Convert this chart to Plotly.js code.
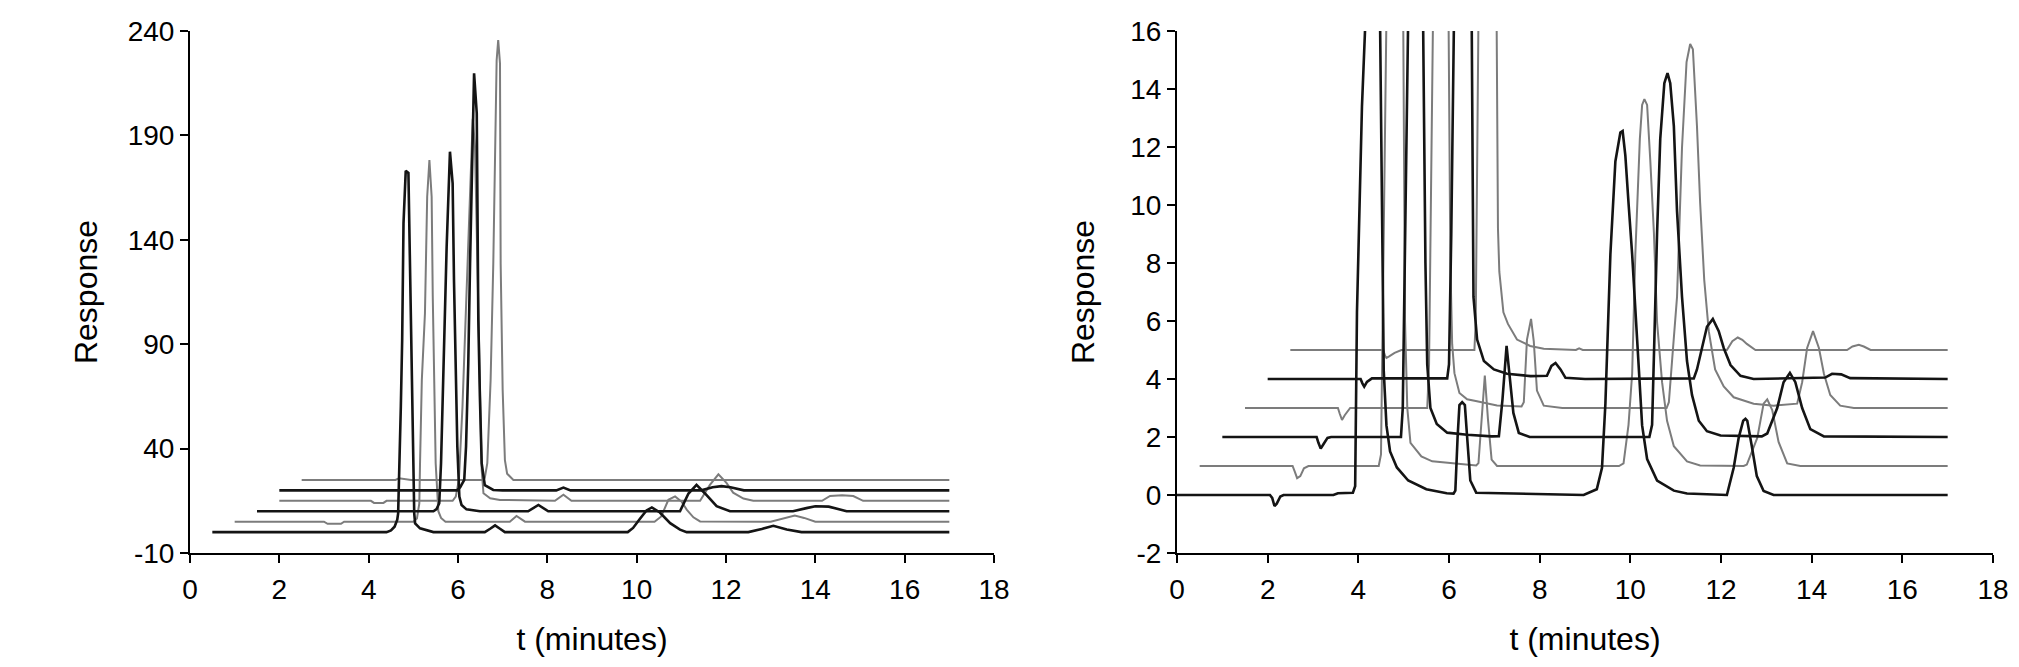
<!DOCTYPE html>
<html>
<head>
<meta charset="utf-8">
<script src="https://cdn.plot.ly/plotly-3.0.1.min.js"></script>
<style>html,body{margin:0;padding:0;background:#fff;}#chart{width:2019px;height:667px;}</style>
</head>
<body>
<div id="chart"></div>
<script>
// ---------- Left panel: six chromatograms (time in minutes, response) ----------
const leftT1 = [0.5, 4.40, 4.50, 4.58, 4.64, 4.66, 4.72, 4.75, 4.78, 4.83, 4.89, 4.925, 4.95, 4.98, 5.02, 5.04, 5.15, 5.45, 6.60, 6.72, 6.83, 6.94, 7.05, 9.80, 9.92, 10.07, 10.22, 10.34, 10.52, 10.75, 10.97, 11.12, 12.50, 12.80, 13.06, 13.36, 13.69, 17.0];
const leftR1 = [0, 0, 0.8, 2.6, 6, 9, 60, 92, 148, 173, 172, 129, 97, 50, 9, 4.2, 1.8, 0, 0, 1.6, 3.2, 1.6, 0, 0, 2, 6.3, 10.4, 11.8, 9.4, 4.3, 1.2, 0, 0, 1.5, 3.0, 1.3, 0, 0];

const leftT2 = [1.0, 3.00, 3.08, 3.38, 3.45, 5.00, 5.08, 5.134, 5.15, 5.19, 5.26, 5.31, 5.36, 5.41, 5.435, 5.47, 5.50, 5.56, 5.62, 5.72, 7.16, 7.31, 7.50, 10.40, 10.55, 10.71, 10.86, 11.01, 11.12, 11.27, 11.42, 13.00, 13.30, 13.54, 13.75, 14.00, 17.0];
const leftR2 = [5, 5, 4, 4, 5, 5, 6.5, 13.8, 33, 72.8, 104.8, 160.6, 178.2, 160.6, 112.8, 64.9, 33, 10, 6.8, 5, 5, 7.7, 5, 5, 7.5, 15.5, 17.1, 14.5, 10.8, 7.1, 5.1, 5, 6.8, 8.0, 6.8, 5, 5];

const leftT3 = [1.5, 5.45, 5.52, 5.58, 5.62, 5.656, 5.686, 5.746, 5.82, 5.88, 5.91, 5.94, 5.985, 6.03, 6.08, 6.19, 6.49, 7.57, 7.80, 8.02, 10.97, 11.16, 11.34, 11.53, 11.79, 12.09, 13.50, 13.80, 14.00, 14.30, 14.60, 14.70, 17.0];
const leftR3 = [10, 10, 11, 13.8, 33, 64.9, 96.8, 136.7, 182.2, 167, 120.7, 80.8, 41, 17, 13, 10.9, 10, 10, 13, 10, 10, 18.5, 22.6, 18.5, 12.4, 10, 10, 11.5, 12.4, 12.2, 10.3, 10, 10];

const leftT4 = [2.0, 4.05, 4.12, 4.33, 4.40, 5.88, 5.95, 6.02, 6.10, 6.18, 6.26, 6.33, 6.38, 6.43, 6.48, 6.53, 6.57, 6.72, 6.94, 8.17, 8.36, 8.54, 11.42, 11.64, 11.83, 12.01, 12.16, 12.39, 12.61, 14.15, 14.33, 14.60, 14.85, 15.07, 17.0];
const leftR4 = [15, 15, 14, 14, 15, 15, 17, 25, 60, 110, 160, 198, 185, 130, 70, 30, 18.6, 16.2, 15.4, 15, 17.9, 15, 15, 22.6, 27.7, 23.6, 18.9, 16.1, 15, 15, 17.3, 17.6, 17.3, 15, 15];

const leftT5 = [2.0, 5.98, 6.05, 6.10, 6.14, 6.18, 6.23, 6.27, 6.36, 6.42, 6.455, 6.49, 6.53, 6.60, 6.79, 7.00, 8.20, 8.36, 8.52, 11.45, 11.70, 11.90, 12.10, 12.40, 17.0];
const leftR5 = [20, 20, 21.5, 23.5, 25, 41, 80.8, 128.7, 219.7, 200.6, 101.6, 64.9, 33, 22.5, 20.2, 20, 20, 21.3, 20, 20, 21.5, 22, 21.5, 20, 20];

const leftT6 = [2.5, 4.60, 4.68, 4.80, 4.95, 6.55, 6.60, 6.656, 6.73, 6.79, 6.83, 6.865, 6.90, 6.94, 6.955, 7.00, 7.05, 7.10, 7.24, 17.0];
const leftR6 = [25, 25, 25.8, 25.5, 25, 25, 26, 33, 72.8, 128.7, 176.6, 226, 235.7, 224.5, 128.7, 68, 34.5, 28, 25, 25];

// ---------- Right panel: the same kind of runs, zoomed response scale ----------
const rightT1 = [0, 2.05, 2.10, 2.15, 2.20, 2.28, 2.35, 3.45, 3.55, 3.88, 3.93, 3.97, 4.08, 4.16, 4.32, 4.48, 4.52, 4.56, 4.62, 4.70, 4.85, 5.10, 5.50, 5.95, 6.10, 6.14, 6.19, 6.23, 6.29, 6.35, 6.40, 6.47, 6.60, 8.97, 9.26, 9.375, 9.45, 9.56, 9.67, 9.78, 9.83, 9.89, 9.96, 10.04, 10.15, 10.26, 10.37, 10.59, 10.96, 11.25, 12.13, 12.28, 12.39, 12.49, 12.54, 12.58, 12.68, 12.79, 12.94, 13.16, 17.0];
const rightR1 = [0, 0, -0.1, -0.38, -0.3, -0.05, 0, 0, 0.06, 0.08, 0.3, 6.3, 13.4, 16.5, 40, 16.5, 8.9, 4.3, 2.4, 1.5, 0.95, 0.5, 0.2, 0.06, 0.05, 0.15, 2.0, 3.1, 3.2, 3.1, 2.0, 0.5, 0.08, 0, 0.2, 0.94, 3.15, 8.3, 11.5, 12.5, 12.55, 11.7, 10.07, 8.3, 5.36, 2.4, 1.24, 0.5, 0.15, 0.05, 0, 0.94, 1.97, 2.56, 2.63, 2.56, 1.68, 0.65, 0.14, 0, 0];

const rightT2 = [0.5, 2.55, 2.60, 2.65, 2.72, 2.80, 2.90, 4.45, 4.50, 4.55, 4.62, 4.80, 4.99, 5.03, 5.08, 5.15, 5.39, 5.63, 6.11, 6.60, 6.65, 6.72, 6.79, 6.86, 6.94, 7.06, 9.75, 9.85, 9.96, 10.04, 10.11, 10.21, 10.26, 10.31, 10.37, 10.44, 10.52, 10.59, 10.70, 10.81, 10.96, 11.25, 11.54, 12.50, 12.57, 12.80, 12.94, 13.02, 13.13, 13.27, 13.46, 13.75, 17.0];
const rightR2 = [1, 1, 0.8, 0.58, 0.65, 0.92, 1.0, 1.0, 1.4, 7, 16.5, 42, 16.5, 6, 3, 1.8, 1.33, 1.16, 1.08, 1.02, 1.1, 2.6, 4.12, 2.6, 1.22, 1.0, 1.0, 1.09, 2.42, 4.18, 8.3, 12.28, 13.45, 13.65, 13.45, 11.54, 9.04, 5.95, 3.89, 2.56, 1.68, 1.16, 1.02, 1.0, 1.05, 1.97, 3.15, 3.3, 2.93, 1.83, 1.09, 1.0, 1.0];

const rightT3 = [1.0, 3.08, 3.12, 3.17, 3.23, 3.32, 3.40, 4.94, 4.98, 5.03, 5.10, 5.27, 5.44, 5.48, 5.52, 5.59, 5.73, 5.96, 6.40, 6.94, 7.10, 7.18, 7.27, 7.35, 7.42, 7.54, 7.78, 10.42, 10.48, 10.53, 10.59, 10.66, 10.75, 10.82, 10.88, 10.96, 11.03, 11.14, 11.25, 11.36, 11.51, 11.69, 11.99, 12.90, 13.02, 13.24, 13.38, 13.52, 13.64, 13.79, 13.97, 14.27, 17.0];
const rightR3 = [2, 2, 1.8, 1.6, 1.75, 1.97, 2.0, 2.0, 3, 9, 16.5, 42, 16.5, 8, 4.5, 3.0, 2.45, 2.15, 2.08, 2.02, 2.03, 3.3, 5.14, 3.8, 2.83, 2.14, 2.0, 2.0, 2.42, 5.36, 9.04, 12.28, 14.2, 14.55, 14.2, 12.72, 9.78, 6.83, 4.62, 3.45, 2.56, 2.2, 2.05, 2.02, 2.12, 3.0, 3.89, 4.21, 3.89, 3.0, 2.27, 2.02, 2.0];

const rightT4 = [1.5, 3.55, 3.59, 3.64, 3.70, 3.82, 5.52, 5.56, 5.60, 5.65, 5.82, 5.99, 6.03, 6.07, 6.12, 6.23, 6.40, 6.59, 7.06, 7.60, 7.65, 7.72, 7.81, 7.87, 7.94, 8.09, 8.50, 10.80, 10.85, 10.92, 11.03, 11.14, 11.24, 11.32, 11.38, 11.47, 11.54, 11.63, 11.73, 11.87, 12.06, 12.28, 12.72, 13.16, 13.68, 13.79, 13.90, 14.03, 14.16, 14.27, 14.41, 14.63, 14.93, 17.0];
const rightR4 = [3, 3, 2.8, 2.59, 2.75, 3.0, 3.0, 4.5, 10, 16.5, 40, 16.5, 8, 5.2, 4.2, 3.52, 3.3, 3.24, 3.09, 3.05, 3.2, 5.36, 6.07, 5.3, 3.6, 3.08, 3.0, 3.0, 3.2, 4.62, 6.83, 11.98, 14.93, 15.55, 15.37, 12.72, 10.07, 7.42, 5.65, 4.33, 3.74, 3.37, 3.15, 3.08, 3.15, 3.89, 5.07, 5.65, 5.07, 4.18, 3.45, 3.08, 3.0, 3.0];

const rightT5 = [2.0, 4.05, 4.09, 4.13, 4.19, 4.30, 5.96, 6.00, 6.05, 6.12, 6.30, 6.50, 6.54, 6.62, 6.77, 6.99, 7.28, 7.80, 8.16, 8.26, 8.35, 8.46, 8.57, 9.00, 11.40, 11.47, 11.58, 11.69, 11.82, 11.95, 12.06, 12.21, 12.43, 12.72, 14.30, 14.45, 14.65, 14.85, 17.0];
const rightR5 = [4, 4, 3.85, 3.74, 3.9, 4.02, 4.02, 4.5, 9, 16.5, 40, 16.5, 6.83, 5.36, 4.62, 4.33, 4.18, 4.1, 4.11, 4.45, 4.55, 4.33, 4.04, 4.0, 4.02, 4.33, 5.07, 5.8, 6.07, 5.65, 5.07, 4.48, 4.11, 4.0, 4.05, 4.18, 4.16, 4.03, 4.0];

const rightT6 = [2.5, 4.55, 4.59, 4.62, 4.68, 4.80, 4.95, 6.56, 6.59, 6.62, 6.65, 6.86, 7.05, 7.08, 7.11, 7.20, 7.30, 7.50, 7.79, 8.09, 8.80, 8.87, 8.95, 12.13, 12.25, 12.37, 12.47, 12.57, 12.76, 14.78, 14.90, 15.04, 15.15, 15.30, 17.0];
const rightR6 = [5, 5, 4.8, 4.73, 4.78, 4.9, 5.0, 5.0, 6, 11, 16.5, 42, 16.5, 9.2, 7.7, 6.3, 5.9, 5.36, 5.14, 5.04, 5.0, 5.06, 5.0, 5.0, 5.3, 5.43, 5.35, 5.21, 5.0, 5.0, 5.12, 5.18, 5.12, 5.0, 5.0];

const xTickVals = [0, 2, 4, 6, 8, 10, 12, 14, 16, 18];
const xTickText = ['0', '2', '4', '6', '8', '10', '12', '14', '16', '18'];
const leftYTicks = [-10, 40, 90, 140, 190, 240];
const leftYText = ['-10', '40', '90', '140', '190', '240'];
const rightYTicks = [-2, 0, 2, 4, 6, 8, 10, 12, 14, 16];
const rightYText = ['-2', '0', '2', '4', '6', '8', '10', '12', '14', '16'];

// ---------- styling ----------
const BLACK = '#141414';
const GRAY = '#7c7c7c';
const leftSeries = [[leftT1, leftR1], [leftT2, leftR2], [leftT3, leftR3], [leftT4, leftR4], [leftT5, leftR5], [leftT6, leftR6]];
const rightSeries = [[rightT1, rightR1], [rightT2, rightR2], [rightT3, rightR3], [rightT4, rightR4], [rightT5, rightR5], [rightT6, rightR6]];

const traces = [];
function addSeries(list, xa, ya) {
  list.forEach((s, i) => {
    const dark = (i % 2 === 0);
    traces.push({
      type: 'scatter', mode: 'lines', x: s[0], y: s[1], xaxis: xa, yaxis: ya,
      line: {color: dark ? BLACK : GRAY, width: dark ? 2.6 : 2.0},
      showlegend: false, hoverinfo: 'skip'
    });
  });
}
addSeries(leftSeries, 'x', 'y');
addSeries(rightSeries, 'x2', 'y2');
// gray runs underneath, black runs on top
traces.sort((a, b) => (a.line.color === GRAY ? 0 : 1) - (b.line.color === GRAY ? 0 : 1));

const FONT = 'Liberation Sans, Arial, Helvetica, sans-serif';
const H = 667, W = 2019;
const yDom = [1 - 553 / H, 1 - 31 / H];

function axisBase() {
  return {
    showline: true, linecolor: '#000', linewidth: 2,
    ticks: 'outside', ticklen: 8, tickwidth: 2, tickcolor: '#000',
    showgrid: false, zeroline: false, fixedrange: true,
    tickfont: {family: FONT, size: 28, color: '#000'}
  };
}
const titleFont = {family: FONT, size: 32, color: '#000'};

const layout = {
  width: W, height: H,
  margin: {l: 0, r: 0, t: 0, b: 0},
  paper_bgcolor: '#fff', plot_bgcolor: '#fff',
  font: {family: FONT, color: '#000'},
  hovermode: false,
  xaxis: Object.assign(axisBase(), {
    domain: [190 / W, 994 / W], anchor: 'y', range: [0, 18],
    tickmode: 'array', tickvals: xTickVals, ticktext: xTickText,
    ticklabelstandoff: 2,
    title: {text: 't (minutes)', font: titleFont, standoff: 24}
  }),
  yaxis: Object.assign(axisBase(), {
    domain: yDom, anchor: 'x', range: [-10, 240],
    tickmode: 'array', tickvals: leftYTicks, ticktext: leftYText,
    ticklabelstandoff: 0,
    title: {text: 'Response', font: titleFont, standoff: 20}
  }),
  xaxis2: Object.assign(axisBase(), {
    domain: [1177 / W, 1993 / W], anchor: 'y2', range: [0, 18],
    tickmode: 'array', tickvals: xTickVals, ticktext: xTickText,
    ticklabelstandoff: 2,
    title: {text: 't (minutes)', font: titleFont, standoff: 24}
  }),
  yaxis2: Object.assign(axisBase(), {
    domain: yDom, anchor: 'x2', range: [-2, 16],
    tickmode: 'array', tickvals: rightYTicks, ticktext: rightYText,
    ticklabelstandoff: 0,
    title: {text: 'Response', font: titleFont, standoff: 26}
  })
};

Plotly.newPlot('chart', traces, layout, {displayModeBar: false, staticPlot: true});
</script>
</body>
</html>
